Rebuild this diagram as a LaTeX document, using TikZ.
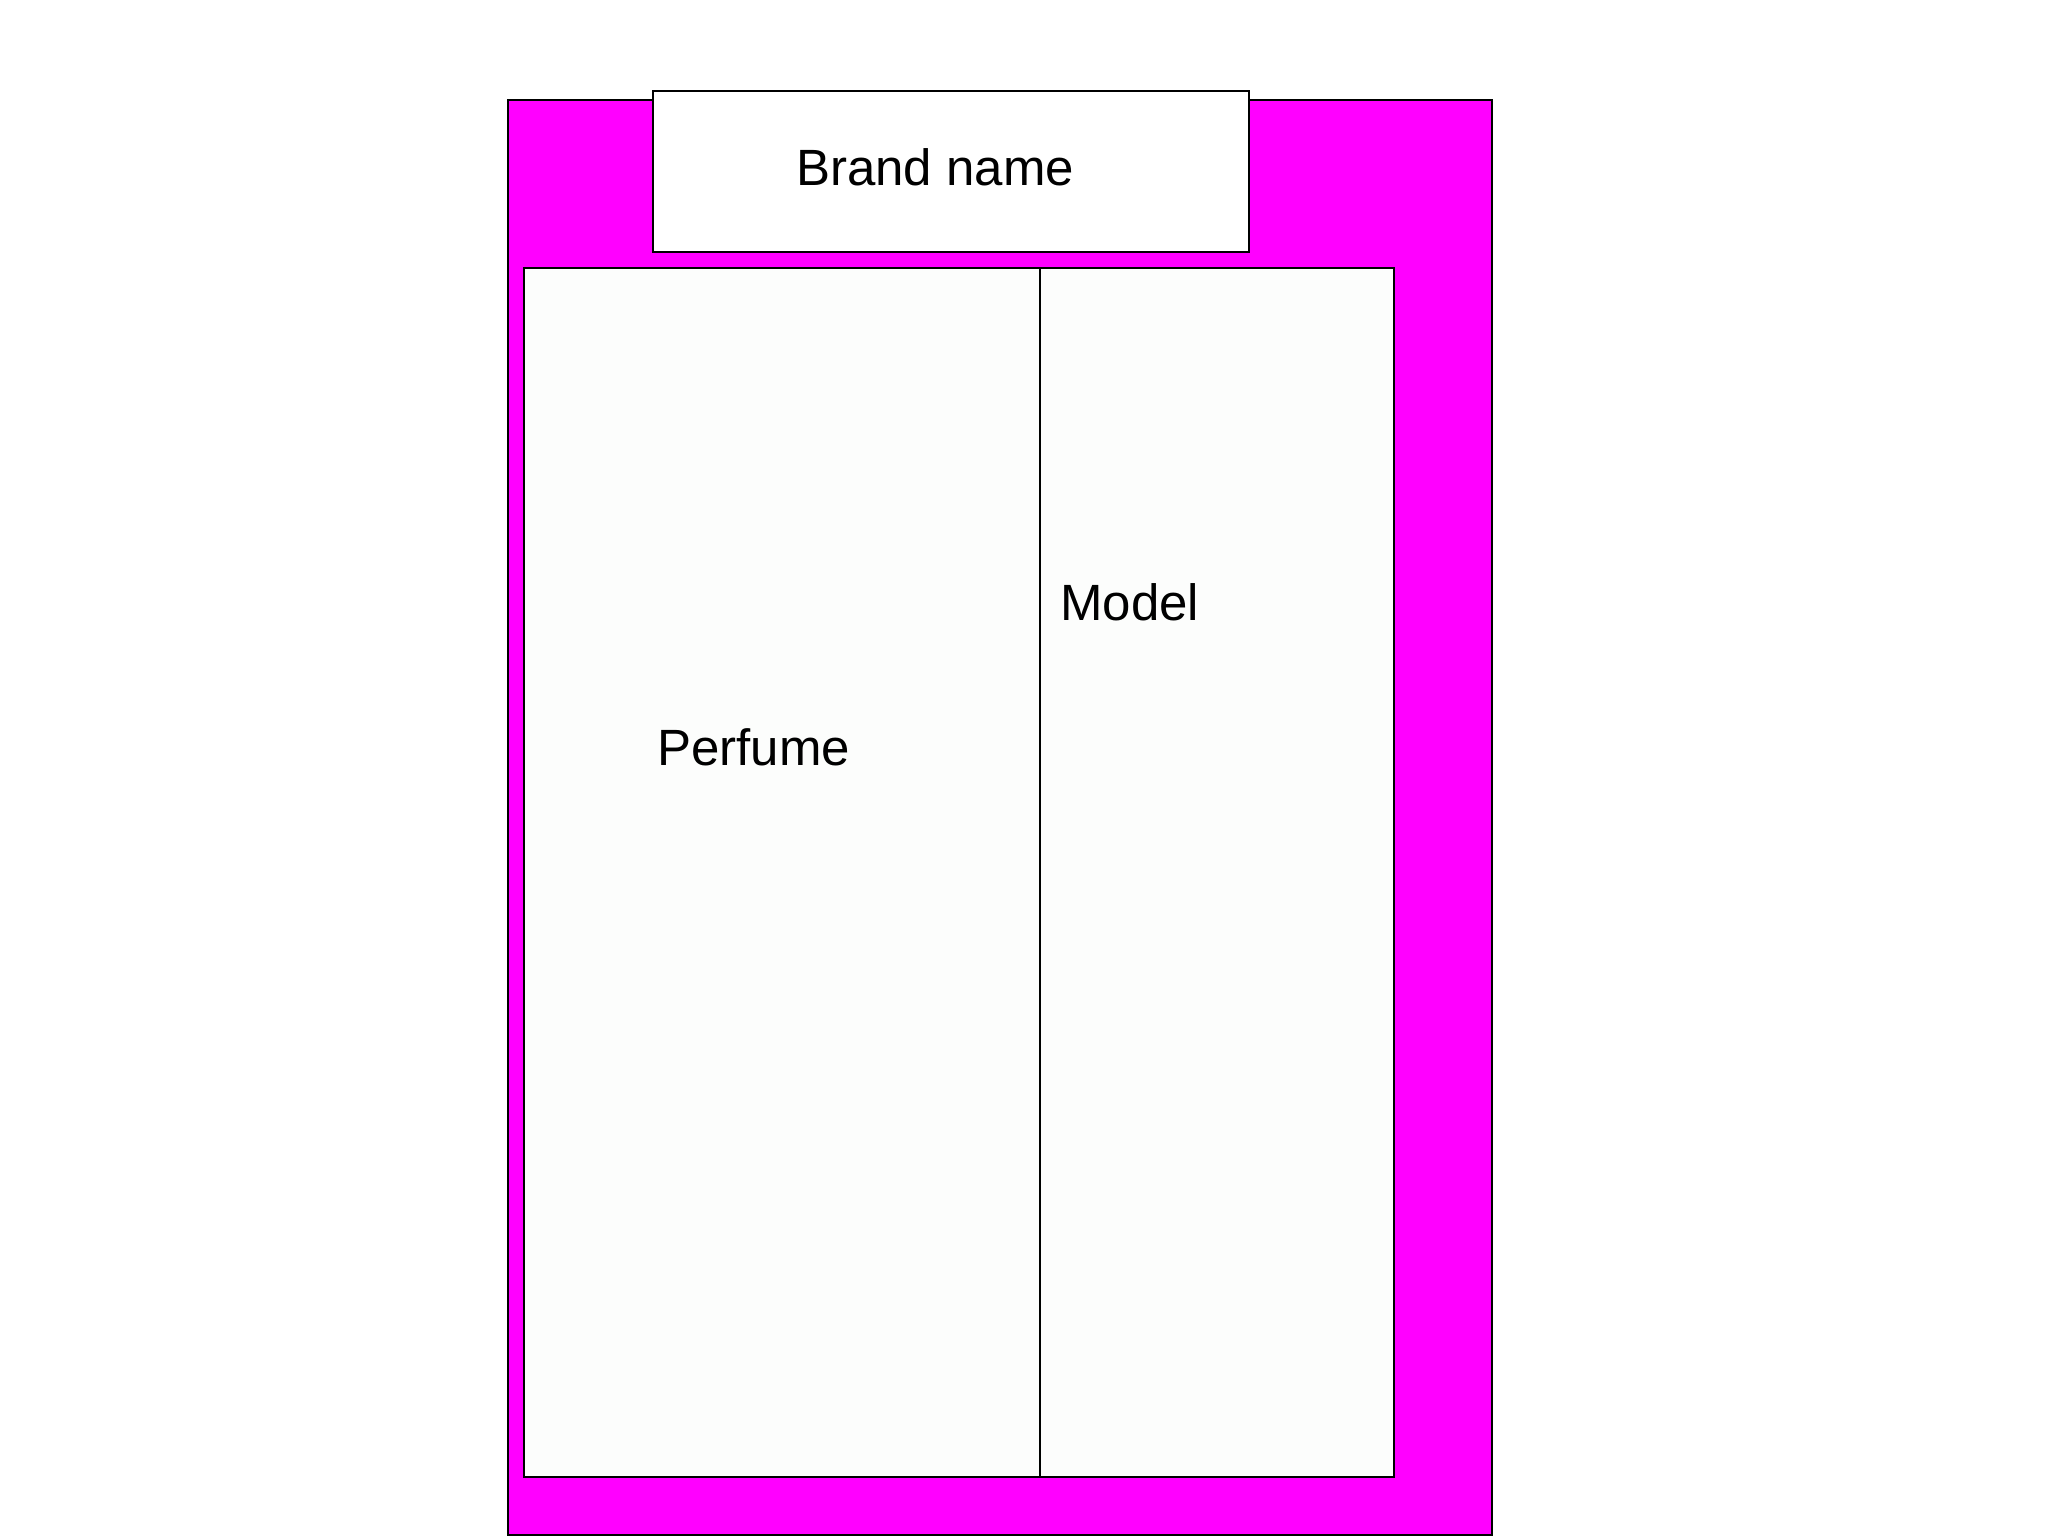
\documentclass[tikz,border=0pt]{standalone}
\usepackage{fontspec}
\setmainfont{Liberation Sans}
\usetikzlibrary{positioning}

\definecolor{poster}{RGB}{255,0,255}
\definecolor{panel}{RGB}{252,253,252}

\begin{document}
\begin{tikzpicture}[x=0.5pt,y=-0.5pt]
\tikzset{every node/.style={font=\fontsize{25.5}{30}\selectfont, inner sep=0pt},
box/.style={draw=black,line width=0.9pt}}
\useasboundingbox (0,0) rectangle (2048,1536);
% poster background
\filldraw[box,fill=poster] (508,100) rectangle (1492,1535);
% brand banner
\filldraw[box,fill=white] (653,91) rectangle (1249,252);
\node (brand) at (935,167) {Brand name};
% main panel, split in two
\filldraw[box,fill=panel] (524,268) rectangle (1394,1477);
\coordinate (split top) at (1040,268);
\coordinate (split bottom) at (1040,1477);
\draw[box] (split top) -- (split bottom);
\node[anchor=west] (perfume) at (657,747) {Perfume};
\node[anchor=west] (model) at (1060,602) {Model};
\end{tikzpicture}
\end{document}
